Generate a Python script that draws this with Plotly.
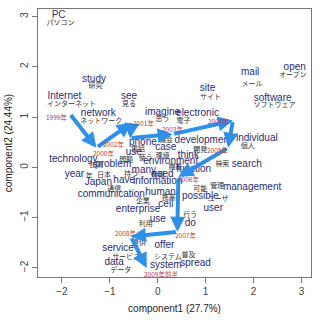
import plotly.graph_objects as go

# English terms
en_words = ["PC", "study", "Internet", "see", "open", "mail", "site", "software",
            "network", "imagine", "electronic", "development", "individual", "phone",
            "case", "use", "technology", "problem", "think", "environment", "search",
            "year", "Japan", "many", "need", "function", "have", "information", "human",
            "communication", "possible", "management", "cell", "enterprise", "user",
            "use", "do", "offer", "service", "data", "system", "spread"]
en_x = [-2.07, -1.33, -1.95, -0.60, 2.86, 1.93, 1.04, 2.40,
        -1.24, 0.10, 0.83, 0.95, 2.07, -0.31,
        0.17, -0.50, -1.76, -0.93, 0.64, 0.27, 1.86,
        -1.74, -1.24, -0.29, 0.10, 0.75, -0.70, 0.00, 0.06,
        -0.97, 0.89, 1.97, 0.17, -0.41, 1.16,
        0.00, 0.68, 0.14, -0.83, -0.91, 0.17, 0.79]
en_y = [3.02, 1.75, 1.40, 1.40, 1.98, 1.89, 1.56, 1.38,
        1.07, 1.09, 1.07, 0.54, 0.58, 0.49,
        0.39, 0.29, 0.16, 0.06, 0.23, 0.12, 0.06,
        -0.14, -0.31, -0.06, -0.14, -0.04, -0.27, -0.29, -0.49,
        -0.54, -0.58, -0.39, -0.74, -0.84, -0.82,
        -1.03, -1.11, -1.56, -1.61, -1.89, -1.95, -1.91]

# Japanese terms
ja_words = ["パソコン", "研究", "インターネット", "見る", "オープン", "メール", "サイト",
            "ソフトウェア", "ネットワーク", "思う", "電子", "機会", "電話", "使う", "環境",
            "問題", "技術", "年", "日本", "持つ", "情報", "通信", "企業", "携帯", "利用",
            "開発", "機能", "個人", "検索", "管理", "可能", "ユーザ", "行う", "提供",
            "サービス", "システム", "データ", "普及"]
ja_x = [-2.03, -1.30, -1.80, -0.60, 2.82, 1.97, 1.10,
        2.44, -1.18, 0.10, 0.54, 0.17, -0.41, -0.25, 0.10,
        -0.66, -1.28, -1.43, -1.12, -0.56, 0.00, -0.91, -0.31, 0.23, -0.25,
        0.89, 0.37, 1.88, 1.35, 1.24, 0.89, 1.26, 0.68, -0.39,
        -0.66, 0.21, -0.77, 0.64]
ja_y = [2.86, 1.61, 1.26, 1.26, 1.83, 1.65, 1.40,
        1.23, 0.91, 0.95, 0.91, 0.53, 0.37, 0.19, 0.23,
        0.14, 0.04, -0.18, -0.16, -0.14, -0.16, -0.43, -0.68, -0.62, -1.13,
        0.35, 0.00, 0.43, 0.06, -0.37, -0.43, -0.64, -0.95, -1.50,
        -1.79, -1.79, -2.04, -1.75]

# Year trajectory
years = ["1999年", "2000年", "2001年", "2002年", "2003年", "2004年", "2005年",
         "2006年", "2007年", "2008年", "2009年前半"]
year_x = [-1.84, -1.28, -0.54, -0.58, 0.31, 1.57, 1.47, 0.43, 0.41, -0.56, -0.23]
year_y = [1.07, 0.39, 0.89, 0.58, 0.66, 0.93, 0.39, -0.19, -1.28, -1.38, -2.00]
# label pixel offsets (style)
year_dx = [-13, 7, 12, -16, 0, -14, -11, 10, 8, -5, 14]
year_dy = [-3, -5, 0, -6, 5, 0, -2, -2, -3, 4, -6]

x_ticks = [-2, -1, 0, 1, 2, 3]
y_ticks = [-2, -1, 0, 1, 2, 3]

NAVY = "#2b2b72"
fig = go.Figure()

fig.add_trace(go.Scatter(x=ja_x, y=ja_y, mode="text", text=ja_words,
                         textfont=dict(family="Noto Sans CJK JP", size=7, color="#333333"),
                         hoverinfo="skip"))
fig.add_trace(go.Scatter(x=en_x, y=en_y, mode="text", text=en_words,
                         textfont=dict(family="Liberation Sans, Arial", size=10, color=NAVY),
                         hoverinfo="skip"))

annotations = []
for i in range(1, len(years)):
    annotations.append(dict(x=year_x[i], y=year_y[i], ax=year_x[i-1], ay=year_y[i-1],
                            xref="x", yref="y", axref="x", ayref="y", text="",
                            showarrow=True, arrowhead=2, arrowsize=0.75, arrowwidth=4,
                            arrowcolor="#2e90e8", standoff=0, startstandoff=0))
for i, lab in enumerate(years):
    annotations.append(dict(x=year_x[i], y=year_y[i], text=lab, showarrow=False,
                            xshift=year_dx[i], yshift=year_dy[i],
                            font=dict(family="Noto Sans CJK JP", size=6.5, color="#b8403a")))

fig.update_layout(
    width=320, height=320,
    margin=dict(l=36, r=8, t=8, b=38),
    paper_bgcolor="white", plot_bgcolor="white",
    showlegend=False,
    annotations=annotations,
    font=dict(family="Liberation Sans, Arial", size=10, color="#333333"),
)
fig.update_xaxes(range=[-2.5, 3.2], tickvals=x_ticks, ticks="outside", ticklen=5,
                 tickcolor="#777777", showgrid=False, zeroline=False, showline=True,
                 linecolor="#777777", linewidth=1, mirror=True,
                 tickfont=dict(size=10, color="#444444"),
                 title=dict(text="component1 (27.7%)", font=dict(size=10, color="#222222"),
                            standoff=8))
fig.update_yaxes(range=[-2.18, 3.15], tickvals=y_ticks, ticks="outside", ticklen=5,
                 tickcolor="#777777", showgrid=False, zeroline=False, showline=True,
                 linecolor="#777777", linewidth=1, mirror=True, tickangle=-90,
                 tickfont=dict(size=10, color="#444444"),
                 title=dict(text="component2 (24.44%)", font=dict(size=10, color="#222222"),
                            standoff=4))

fig.write_html("out.html")
